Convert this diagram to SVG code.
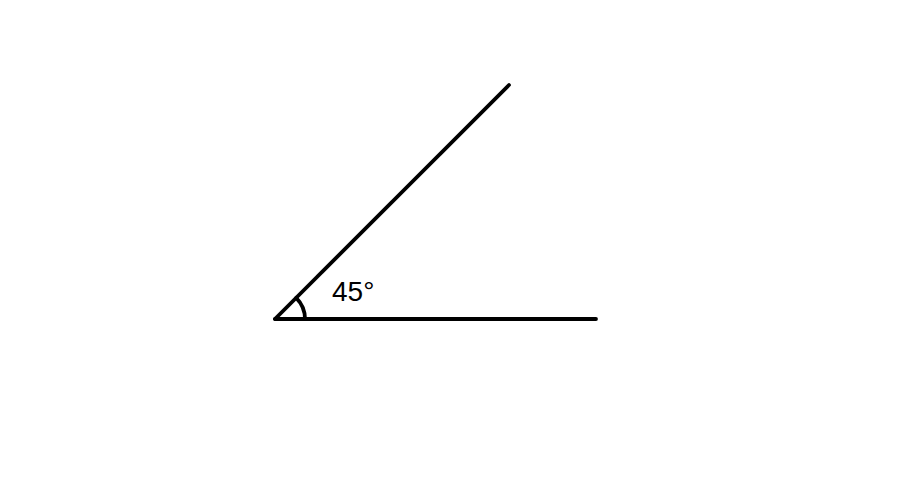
<svg xmlns="http://www.w3.org/2000/svg" width="917" height="502" viewBox="0 0 917 502">
<style>
.ln{stroke:#000;stroke-width:3.8;fill:none;stroke-linecap:round}
.lbl{font-family:"Liberation Sans",Arial,sans-serif;font-size:28px;fill:#000}
</style>
<rect width="917" height="502" fill="#fff"/>
<g id="connectors">
<line class="ln" x1="275" y1="319" x2="596" y2="319"/>
<line class="ln" x1="275" y1="319" x2="509" y2="85"/>
</g>
<g id="angle">
<path class="ln" d="M305,319 A30,30 0 0 0 296.2,297.8"/>
<text class="lbl" x="332" y="301">45°</text>
</g>
</svg>
